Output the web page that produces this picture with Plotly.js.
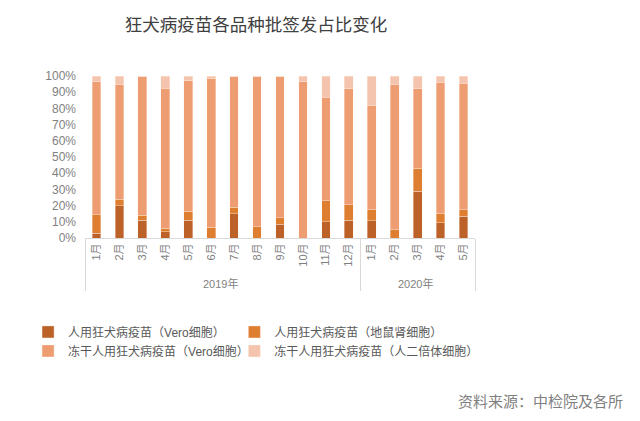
<!DOCTYPE html>
<html>
<head>
<meta charset="utf-8">
<script src="https://cdn.plot.ly/plotly-3.0.1.min.js"></script>
<style>html,body{margin:0;padding:0;background:#fff;}#chart{width:640px;height:421px;}</style>
</head>
<body>
<div id="chart"></div>
<script>
const years = ['2019年','2019年','2019年','2019年','2019年','2019年','2019年','2019年','2019年','2019年','2019年','2019年','2020年','2020年','2020年','2020年','2020年'];
const months = ['1月','2月','3月','4月','5月','6月','7月','8月','9月','10月','11月','12月','1月','2月','3月','4月','5月'];
const seriesNames = ['人用狂犬病疫苗（Vero细胞）','人用狂犬病疫苗（地鼠肾细胞）','冻干人用狂犬病疫苗（Vero细胞）','冻干人用狂犬病疫苗（人二倍体细胞）'];
const veroHuman   = [3, 20, 11, 4, 11, 0, 15, 0, 8.5, 0, 10, 11, 10.5, 0, 29, 9.5, 13.5];
const hamster     = [11.5, 4, 3, 2, 5.5, 6.5, 4, 7, 4, 0, 13, 9.5, 7, 5, 14, 5.5, 4];
const veroFrozen  = [82, 71, 86, 86.5, 80.5, 92, 81, 93, 87.5, 96.5, 64, 71.5, 64, 90, 49, 81, 78];
const diploid     = [3.5, 5, 0, 7.5, 3, 1.5, 0, 0, 0, 3.5, 13, 8, 18.5, 5, 8, 4, 4.5];
const yTicks = [0,10,20,30,40,50,60,70,80,90,100];
const yTickText = yTicks.map(v => v + '%');

const colors = ['#BC6128','#DE7E31','#EE9D72','#F5C4AE'];
const legendIds = ['legend','legend2','legend','legend2'];
const font = 'Liberation Sans, Arial, Noto Sans CJK SC, sans-serif';
const seriesData = [veroHuman, hamster, veroFrozen, diploid];
const traces = seriesData.map((v, i) => ({
  type: 'bar',
  name: seriesNames[i],
  x: [years, months],
  y: v,
  marker: {color: colors[i], line: {color: 'rgba(255,240,230,0.8)', width: 0.5}},
  legend: legendIds[i],
  hoverinfo: 'skip'
}));

const legendBase = {
  orientation: 'v',
  yanchor: 'top',
  xanchor: 'left',
  itemwidth: 30,
  tracegroupgap: 0,
  traceorder: 'normal',
  bgcolor: 'rgba(0,0,0,0)',
  font: {family: font, size: 12, color: '#595959'}
};

const layout = {
  width: 640, height: 421,
  paper_bgcolor: '#fff', plot_bgcolor: '#fff',
  margin: {l: 85, r: 165, t: 76, b: 183},
  barmode: 'stack',
  bargap: 0.62,
  title: {text: '狂犬病疫苗各品种批签发占比变化', x: 0.4, xanchor: 'center', y: 0.94, yanchor: 'middle',
          font: {family: font, size: 17.5, color: '#404040'}},
  xaxis: {
    type: 'multicategory',
    tickangle: -90,
    showline: true, linecolor: '#d9d9d9', linewidth: 1,
    showdividers: true, dividercolor: '#d9d9d9', dividerwidth: 1,
    ticks: '',
    tickfont: {family: font, size: 11, color: '#7f7f7f'},
    showgrid: false, zeroline: false
  },
  yaxis: {
    range: [0, 100],
    tickmode: 'array',
    tickvals: yTicks,
    ticktext: yTickText,
    showgrid: false, zeroline: false, showline: false,
    ticks: '',
    ticklabelstandoff: 8,
    tickfont: {family: font, size: 12, color: '#7f7f7f'}
  },
  showlegend: true,
  legend: Object.assign({}, legendBase, {x: -0.146, y: -0.49}),
  legend2: Object.assign({}, legendBase, {x: 0.383, y: -0.49}),
  annotations: [{
    text: '资料来源：中检院及各所',
    xref: 'paper', yref: 'paper',
    x: 1.385, y: -1.01, xanchor: 'right', yanchor: 'middle',
    showarrow: false,
    font: {family: font, size: 15, color: '#7f7f7f'}
  }]
};

Plotly.newPlot('chart', traces, layout, {displayModeBar: false, staticPlot: true});
</script>
</body>
</html>
